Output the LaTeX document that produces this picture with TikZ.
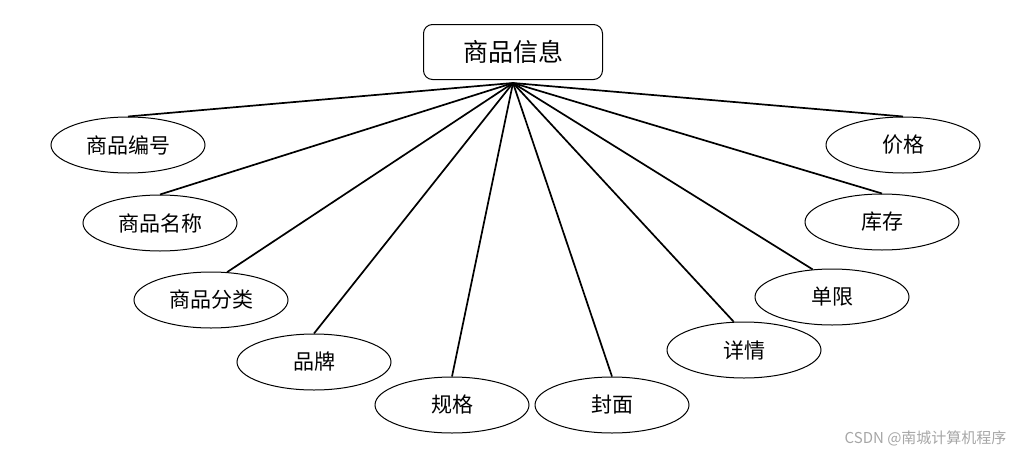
\documentclass[tikz,border=0pt]{standalone}
\usepackage{fontspec}
\newfontfamily\cjk{Noto Sans CJK SC}
\usetikzlibrary{shapes.geometric}
\begin{document}
\begin{tikzpicture}[x=1pt,y=-1pt,
  attr/.style={draw,ellipse,line width=1pt,minimum width=154pt,minimum height=56pt,inner sep=0pt,font=\cjk\fontsize{21}{23}\selectfont},
  ent/.style={draw,rounded corners=9pt,line width=1pt,minimum width=179pt,minimum height=55pt,font=\cjk\fontsize{25}{27}\selectfont},
  link/.style={line width=1.7pt}]
\useasboundingbox (0,0) rectangle (1023,458);
\node[ent] (root) at (513,52) {商品信息};
\coordinate (hub) at (513,83);
\node[attr] (a1) at (128,145) {商品编号};
\node[attr] (a2) at (160,223) {商品名称};
\node[attr] (a3) at (211,300) {商品分类};
\node[attr] (a4) at (314,362) {品牌};
\node[attr] (a5) at (452,405) {规格};
\node[attr] (a6) at (612,405) {封面};
\node[attr] (a7) at (744,350) {详情};
\node[attr] (a8) at (832,297) {单限};
\node[attr] (a9) at (882,222) {库存};
\node[attr] (a10) at (903,145) {价格};
\draw[link] (hub) -- (a1.north);
\draw[link] (hub) -- (a2.north);
\draw[link] (hub) -- (a3.60);
\draw[link] (hub) -- (a4.north);
\draw[link] (hub) -- (a5.north);
\draw[link] (hub) -- (a6.north);
\draw[link] (hub) -- (a7.110);
\draw[link] (hub) -- (a8.125);
\draw[link] (hub) -- (a9.north);
\draw[link] (hub) -- (a10.north);
\node[anchor=east,text=gray!70,font=\cjk\fontsize{15}{17}\selectfont] (wm) at (1010,438) {CSDN @南城计算机程序};
\end{tikzpicture}
\end{document}
